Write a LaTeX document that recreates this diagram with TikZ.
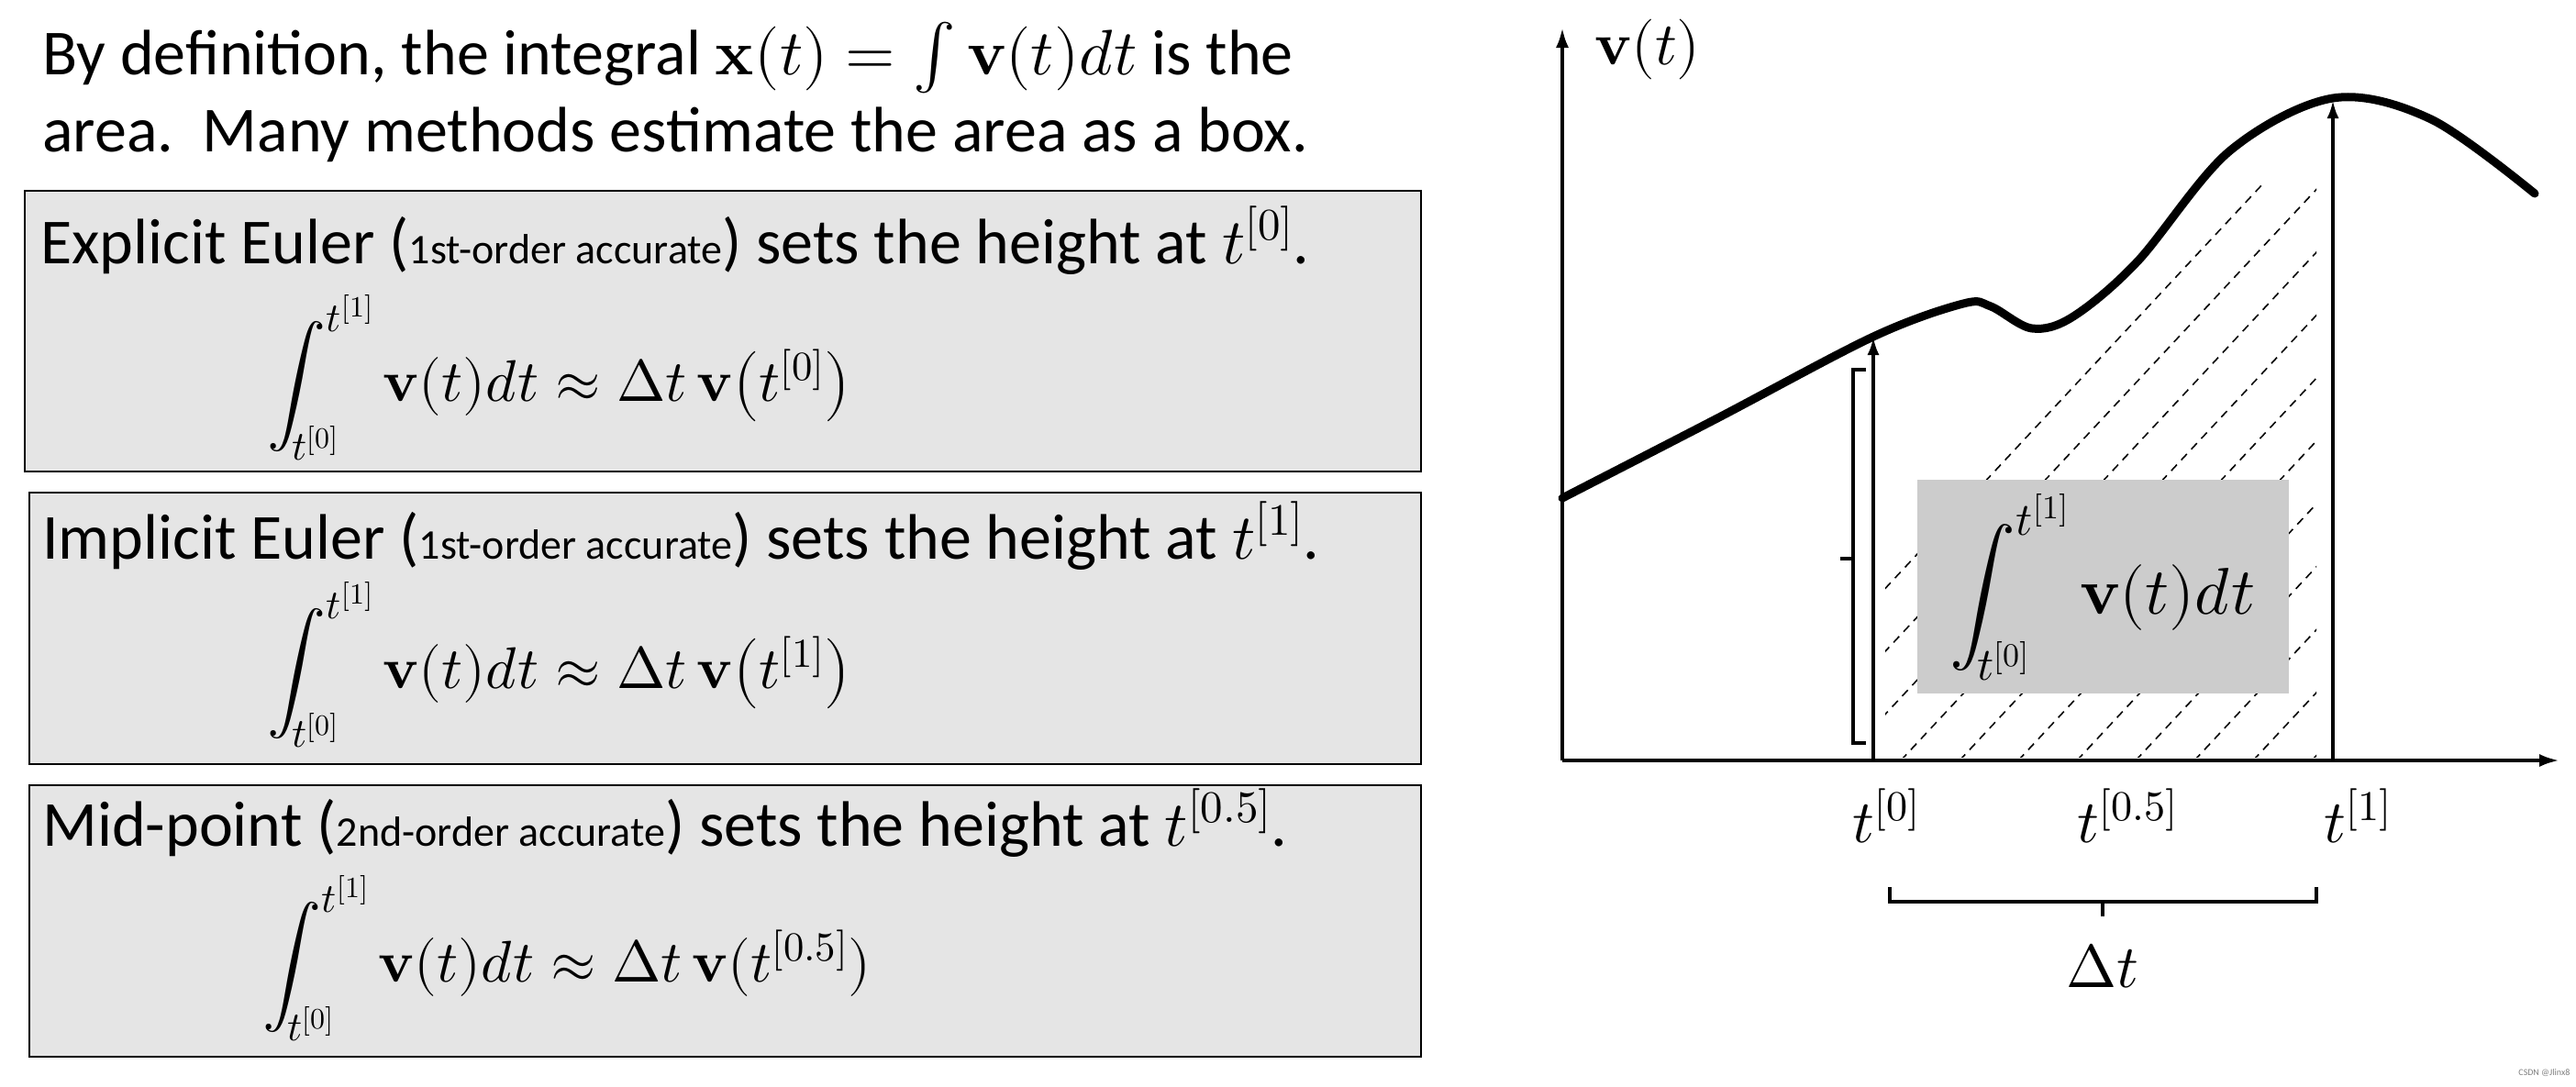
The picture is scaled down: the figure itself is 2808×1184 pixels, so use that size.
\documentclass[tikz,border=0pt]{standalone}
\usepackage{amsmath}
\usepackage{fontspec}
\usepackage{unicode-math}
\setmainfont{Carlito}
\setmathfont{Latin Modern Math}
\usetikzlibrary{arrows.meta}
\begin{document}
\begin{tikzpicture}[x=1pt,y=-1pt,
  box/.style={draw=black,line width=2pt,fill=gray!20},
  txt/.style={anchor=base west,inner sep=0pt,font=\fontsize{70}{84}\selectfont},
  frm/.style={inner sep=0pt,font=\fontsize{64}{70}\selectfont},
  lbl/.style={font=\fontsize{66}{70}\selectfont},
  ax/.style={line width=4pt,-{Latex[length=22pt,width=14pt]}}]
\useasboundingbox (0,0) rectangle (2808,1184);
\fill[white] (0,0) rectangle (2808,1184);
% left text
\node[txt] (h1) at (46,81) {By definition, the integral $\symbf{x}(t)=\int\symbf{v}(t)dt$ is the};
\node[txt] (h2) at (46,165) {area.\ \ Many methods estimate the area as a box.};
\draw[box] (27,208) rectangle (1549,514);
\draw[box] (32,537) rectangle (1549,833);
\draw[box] (32,856) rectangle (1549,1152);
\node[txt] (e1) at (44,287) {Explicit Euler ({\fontsize{46}{50}\selectfont 1st-order accurate}) sets the height at $t^{[0]}$.};
\node[frm] (f1) at (610,412) {$\displaystyle\int_{t^{[0]}}^{t^{[1]}}\symbf{v}(t)dt\approx\Delta t\,\symbf{v}\bigl(t^{[0]}\bigr)$};
\node[txt] (e2) at (46,609) {Implicit Euler ({\fontsize{46}{50}\selectfont 1st-order accurate}) sets the height at $t^{[1]}$.};
\node[frm] (f2) at (610,725) {$\displaystyle\int_{t^{[0]}}^{t^{[1]}}\symbf{v}(t)dt\approx\Delta t\,\symbf{v}\bigl(t^{[1]}\bigr)$};
\node[txt] (e3) at (46,922) {Mid-point ({\fontsize{46}{50}\selectfont 2nd-order accurate}) sets the height at $t^{[0.5]}$.};
\node[frm] (f3) at (618,1045) {$\displaystyle\int_{t^{[0]}}^{t^{[1]}}\symbf{v}(t)dt\approx\Delta t\,\symbf{v}(t^{[0.5]})$};
% graph
\def\curvepts{(1703,543)(1870,457)(2042,367)(2140,331)(2170,334)(2215,358)(2260,345)(2330,285)(2430,165)(2543,107)(2650,130)(2763,211)}
\begin{scope}
\clip (2055,200) rectangle (2525,825);
\clip plot[smooth,tension=0.55] coordinates {(1703,583)(1870,497)(2042,407)(2140,371)(2170,374)(2215,398)(2260,385)(2330,325)(2430,205)(2543,147)(2650,170)(2763,251)} -- (2763,829) -- (1703,829) -- cycle;
\foreach \i in {0,...,15}{
  \draw[line width=1.6pt,dash pattern=on 9pt off 7pt] (1880+\i*64,829) -- ++(700,-750);
}
\end{scope}
\fill[gray!40] (2090,523) rectangle (2495,756);
\node[font=\fontsize{72}{76}\selectfont,inner sep=0pt] (I) at (2292,640) {$\displaystyle\int_{t^{[0]}}^{t^{[1]}}\symbf{v}(t)dt$};
\coordinate (O) at (1703,829);
\coordinate (Y) at (1703,30);
\coordinate (X) at (2790,829);
\draw[ax] (O) -- (Y);
\draw[ax] (O) -- (X);
\draw[line width=9pt,line cap=round] plot[smooth,tension=0.55] coordinates {\curvepts};
\coordinate (a0) at (2042,829); \coordinate (a0t) at (2042,367);
\coordinate (a1) at (2543,829); \coordinate (a1t) at (2543,109);
\draw[line width=4pt,-{Latex[length=20pt,width=13pt]}] (a0) -- (a0t);
\draw[line width=4pt,-{Latex[length=20pt,width=13pt]}] (a1) -- (a1t);
\draw[line width=4pt] (2034,403) -- (2020,403) -- (2020,810) -- (2034,810);
\draw[line width=4pt] (2020,609) -- (2006,609);
\node[lbl] (vt) at (1796,54) {$\symbf{v}(t)$};
\node[lbl] (t0) at (2056,890) {$t^{[0]}$};
\node[lbl] (t5) at (2319,890) {$t^{[0.5]}$};
\node[lbl] (t1) at (2570,890) {$t^{[1]}$};
\draw[line width=4pt] (2060,967) -- (2060,983) -- (2525,983) -- (2525,967);
\draw[line width=4pt] (2292,983) -- (2292,999);
\node[lbl] (dt) at (2292,1053) {$\Delta t$};
\node[font=\fontsize{10}{12}\selectfont,text=gray,anchor=east] (wm) at (2805,1170) {CSDN @Jlinx8};
\end{tikzpicture}
\end{document}
